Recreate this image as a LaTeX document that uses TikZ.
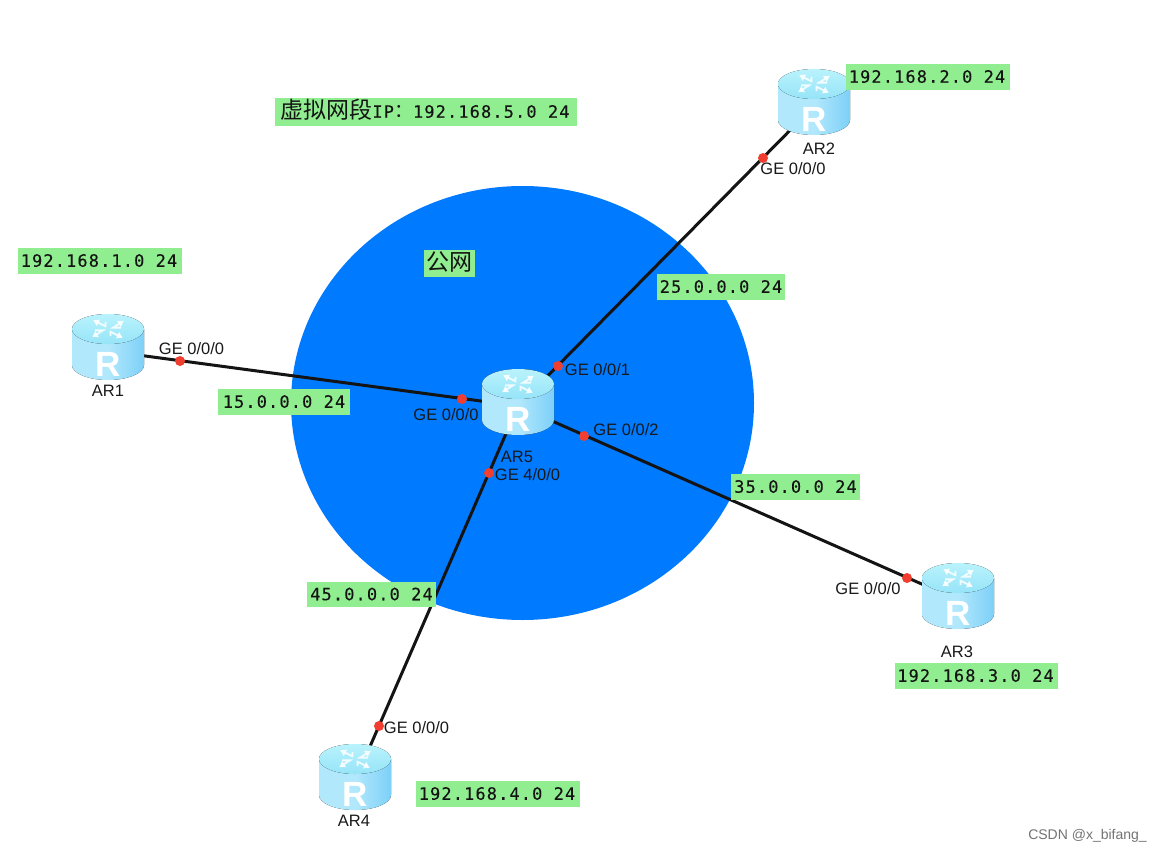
\documentclass[tikz,border=0pt]{standalone}
\usepackage{fontspec}
\setmainfont{Liberation Sans}
\newfontfamily\monof[LetterSpace=6.5,FakeBold=0.15]{DejaVu Sans Mono}
\newfontfamily\cjkf{Noto Sans CJK SC}
\usetikzlibrary{arrows.meta}
\definecolor{netblue}{RGB}{0,122,255}
\definecolor{tagGreen}{RGB}{144,238,144}
\definecolor{dotRed}{RGB}{240,62,48}
\definecolor{rimLight}{RGB}{178,232,252}
\definecolor{rimDark}{RGB}{125,208,248}
\definecolor{topLight}{RGB}{185,243,252}
\definecolor{topDark}{RGB}{150,228,248}
\tikzset{
  x=1pt,y=-1pt,
  routerbox/.style={minimum width=72pt,minimum height=66pt,inner sep=0pt},
  link/.style={draw=black!92,line width=3pt},
  portdot/.style={circle,fill=dotRed,minimum size=10pt,inner sep=0pt},
  portlabel/.style={inner sep=0pt,font=\fontsize{16.5}{18}\selectfont,text=black!90},
  namelabel/.style={inner sep=0pt,font=\fontsize{16.5}{18}\selectfont,text=black!90},
  tag/.style={fill=tagGreen,inner sep=0pt,anchor=center,text=black!92,font=\monof\fontsize{17}{20}\selectfont,text height=12.5pt,text depth=1pt},
}
\newcommand{\cjktext}[1]{{\cjkf\fontsize{23}{22}\selectfont\raisebox{-1pt}{#1}}}
\newcommand{\routerart}[1]{%
  \begin{scope}[shift={(#1.center)}]
    \fill[left color=rimLight,right color=rimDark,middle color=rimLight]
      (-36,-22) -- (-36,14) arc[start angle=180,end angle=360,x radius=36,y radius=-15] -- (36,-22) -- cycle;
    \fill[top color=topLight,bottom color=topDark] (0,-22) ellipse[x radius=36,y radius=15];
    \begin{scope}[shift={(0,-22)},yscale=.55]
      \foreach \a in {0,90,180,270}{
        \draw[white,opacity=.85,line width=1.8pt,rotate=\a,-{Latex[length=6pt,width=8pt]}] (13,-2.5) -- (5,-2.5) -- (16,-15);
      }
    \end{scope}
    \node[inner sep=0pt,text=white,font=\fontsize{35}{35}\selectfont\bfseries] at (0,13) {R};
  \end{scope}}
\begin{document}
\begin{tikzpicture}
\useasboundingbox (0,0) rectangle (1162,853);
\fill[white] (0,0) rectangle (1162,853);
\fill[netblue] (522.5,403) ellipse[x radius=231.5,y radius=217];

\node[routerbox] (ar1) at (108,351) {};
\node[routerbox] (ar2) at (814,106) {};
\node[routerbox] (ar3) at (958,600) {};
\node[routerbox] (ar4) at (355,781) {};
\node[routerbox] (ar5) at (518,406) {};

\draw[link] (ar1.center) -- (ar5.center);
\draw[link] (ar2.center) -- (ar5.center);
\draw[link] (ar3.center) -- (ar5.center);
\draw[link] (ar4.center) -- (ar5.center);

\routerart{ar1}\routerart{ar2}\routerart{ar3}\routerart{ar4}\routerart{ar5}

\node[portdot] (d1a) at (180,361) {};
\node[portdot] (d1b) at (462,399) {};
\node[portdot] (d2a) at (763,158) {};
\node[portdot] (d2b) at (558,366) {};
\node[portdot] (d3a) at (907,578) {};
\node[portdot] (d3b) at (584,436) {};
\node[portdot] (d4a) at (379,726) {};
\node[portdot] (d4b) at (489,473) {};

\node[portlabel] (p1a) at (191.5,348.5) {GE 0/0/0};
\node[portlabel] (p1b) at (446,414.5) {GE 0/0/0};
\node[portlabel] (p2a) at (793,168.5) {GE 0/0/0};
\node[portlabel] (p2b) at (597.5,369.5) {GE 0/0/1};
\node[portlabel] (p3a) at (868,588.5) {GE 0/0/0};
\node[portlabel] (p3b) at (626,429.5) {GE 0/0/2};
\node[portlabel] (p4a) at (416.5,727.5) {GE 0/0/0};
\node[portlabel] (p4b) at (527.5,474.5) {GE 4/0/0};

\node[namelabel] (n1) at (108,391) {AR1};
\node[namelabel] (n2) at (819,149) {AR2};
\node[namelabel] (n3) at (957,652) {AR3};
\node[namelabel] (n4) at (354,821) {AR4};
\node[namelabel] (n5) at (517,457) {AR5};

\node[tag,minimum width=164pt,minimum height=26pt] (t2) at (928,77) {\hspace{-2pt}192.168.2.0 24};
\node[tag,minimum width=302pt,minimum height=28pt] (tv) at (426,112) {\hspace{-2pt}\cjktext{虚拟网段}IP{\cjkf\fontsize{19}{20}\selectfont ：}192.168.5.0 24};
\node[tag,minimum width=164pt,minimum height=25pt] (t1) at (100,261) {\hspace{-2pt}192.168.1.0 24};
\node[tag,minimum width=51pt,minimum height=27pt] (tg) at (449.5,263.5) {\cjktext{公网}};
\node[tag,minimum width=128pt,minimum height=26pt] (t25) at (721,287) {25.0.0.0 24};
\node[tag,minimum width=132pt,minimum height=26pt] (t15) at (284,402) {15.0.0.0 24};
\node[tag,minimum width=129pt,minimum height=26pt] (t35) at (795.5,487) {35.0.0.0 24};
\node[tag,minimum width=129pt,minimum height=25pt] (t45) at (371.5,594.5) {45.0.0.0 24};
\node[tag,minimum width=163pt,minimum height=26pt] (t3) at (976.5,676) {\hspace{-2pt}192.168.3.0 24};
\node[tag,minimum width=164pt,minimum height=26pt] (t4) at (498,794) {\hspace{-2pt}192.168.4.0 24};

\node[inner sep=0pt,text=black!55,font=\fontsize{14}{15}\selectfont] (wm) at (1087.5,836) {CSDN @x\_bifang\_};
\end{tikzpicture}
\end{document}
